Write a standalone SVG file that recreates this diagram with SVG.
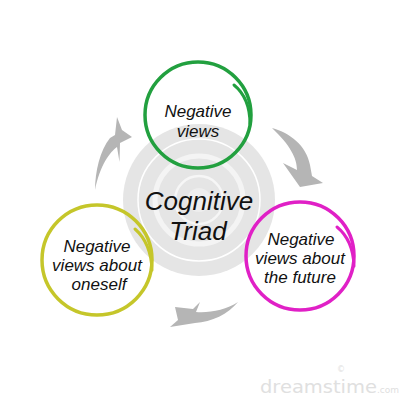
<svg xmlns="http://www.w3.org/2000/svg" width="400" height="400" viewBox="0 0 400 400">
  <style>
    .lbl { font-family: "Liberation Sans", Arial, sans-serif; font-style: italic; fill: #111; text-anchor: middle; }
    .node { font-size: 17px; }
    .title { font-size: 26px; }
    .ring { fill: none; stroke-width: 3.5; }
    .tail { fill: none; stroke-width: 3; stroke-linecap: round; }
    .arrow { fill: #b5b5b5; }
    .wm { font-family: "DejaVu Sans", sans-serif; fill: #e0e0e0; }
  </style>
  <rect width="400" height="400" fill="#ffffff"/>

  <g id="node-center">
    <circle cx="199" cy="200" r="76" fill="#e5e5e5"/>
    <circle cx="199" cy="200" r="61" fill="none" stroke="#ffffff" stroke-width="1.5"/>
    <circle cx="199" cy="200" r="44" fill="none" stroke="#f4f4f4" stroke-width="5"/>
    <circle cx="199" cy="200" r="24" fill="none" stroke="#f6f6f6" stroke-width="2.5"/>
    <circle cx="199" cy="200" r="12" fill="#eeeeee"/>
    <text class="lbl title" x="199" y="210">Cognitive</text>
    <text class="lbl title" x="198" y="240">Triad</text>
  </g>

  <g id="connectors">
    <path class="arrow" d="M95,190 C95,172 100,150 110,138 L115,135 L117,117 L122,130 L132,137 L120,143 L119.5,162 L117,147 C110,152 100,165 95,190 Z"/>
    <path class="arrow" d="M272,128 C290,133 306,145 310,165 L312,176 L323,183 L300,187 L283,163 L297,170 C297,158 290,145 272,128 Z"/>
    <path class="arrow" d="M238,302 C228,314 212,322 195,323 L170,327 L178,320 L175,307 L193,309 L200,302 L196,312 C210,313 226,310 238,302 Z"/>
  </g>

  <g id="node-views">
    <circle class="ring" cx="198" cy="115" r="53" fill="#ffffff" stroke="#22a03f"/>
    <path class="tail" d="M234,85 Q250,98 250,124" stroke="#22a03f"/>
    <text class="lbl node" x="198" y="117">Negative</text>
    <text class="lbl node" x="198" y="137">views</text>
  </g>

  <g id="node-oneself">
    <circle class="ring" cx="97" cy="260" r="55" fill="#ffffff" stroke="#c5c62a"/>
    <path class="tail" d="M135,229 Q151,243 152,270" stroke="#c5c62a"/>
    <text class="lbl node" x="97" y="252">Negative</text>
    <text class="lbl node" x="97" y="271">views about</text>
    <text class="lbl node" x="99" y="290">oneself</text>
  </g>

  <g id="node-future">
    <circle class="ring" cx="300" cy="256" r="54" fill="#ffffff" stroke="#e020c6"/>
    <path class="tail" d="M337,227 Q353,240 354,266" stroke="#e020c6"/>
    <text class="lbl node" x="301" y="245">Negative</text>
    <text class="lbl node" x="300" y="264">views about</text>
    <text class="lbl node" x="300" y="283">the future</text>
  </g>

  <g id="watermark">
    <text class="wm" x="341" y="372" font-size="8" text-anchor="middle">©</text>
    <text class="wm" x="260" y="393" font-size="18" textLength="117" lengthAdjust="spacingAndGlyphs">dreamstime</text>
    <text class="wm" x="377" y="393" font-size="9">.com</text>
  </g>
</svg>
